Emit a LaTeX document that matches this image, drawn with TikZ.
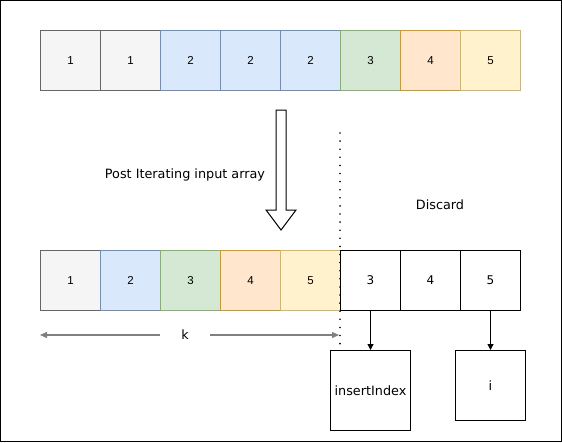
\documentclass[tikz,border=0pt]{standalone}
\usepackage{fontspec}
\setmainfont{Liberation Sans}
\newfontfamily\comicish{DejaVu Sans}
\usetikzlibrary{arrows.meta}
\definecolor{grayF}{HTML}{F5F5F5}\definecolor{grayS}{HTML}{666666}
\definecolor{blueF}{HTML}{DAE8FC}\definecolor{blueS}{HTML}{6C8EBF}
\definecolor{greenF}{HTML}{D5E8D4}\definecolor{greenS}{HTML}{82B366}
\definecolor{orangeF}{HTML}{FFE6CC}\definecolor{orangeS}{HTML}{D79B00}
\definecolor{yellowF}{HTML}{FFF2CC}\definecolor{yellowS}{HTML}{D6B656}
\definecolor{lineG}{HTML}{808080}
\tikzset{
  cell/.style={draw, line width=1pt, minimum width=60pt, minimum height=60pt, inner sep=0pt, anchor=north west, font=\fontsize{11.5}{13}\selectfont},
  gcell/.style={cell, fill=grayF, draw=grayS},
  bcell/.style={cell, fill=blueF, draw=blueS},
  ccell/.style={cell, fill=greenF, draw=greenS},
  ocell/.style={cell, fill=orangeF, draw=orangeS},
  ycell/.style={cell, fill=yellowF, draw=yellowS},
  wcell/.style={cell, fill=white, draw=black, font=\comicish\fontsize{12}{14}\selectfont},
  lbl/.style={font=\comicish\fontsize{12.8}{15}\selectfont, inner sep=0pt},
  arr/.style={-{Triangle[length=6pt,width=6pt]}, line width=1pt},
  varbox/.style={draw, line width=1pt, inner sep=0pt, anchor=north west, font=\comicish\fontsize{12.8}{15}\selectfont}
}
\begin{document}
\begin{tikzpicture}[x=1pt,y=-1pt]
\useasboundingbox (0,0) rectangle (562,442);
\draw[line width=1pt] (0.5,0.5) rectangle (561.5,441.5);
% top row
\node[gcell] (t1) at (40,30) {1};
\node[gcell] (t2) at (100,30) {1};
\node[bcell] (t3) at (160,30) {2};
\node[bcell] (t4) at (220,30) {2};
\node[bcell] (t5) at (280,30) {2};
\node[ccell] (t6) at (340,30) {3};
\node[ocell] (t7) at (400,30) {4};
\node[ycell] (t8) at (460,30) {5};
% bottom row
\node[gcell] (b1) at (40,250) {1};
\node[bcell] (b2) at (100,250) {2};
\node[ccell] (b3) at (160,250) {3};
\node[ocell] (b4) at (220,250) {4};
\node[ycell] (b5) at (280,250) {5};
\node[wcell] (b6) at (340,250) {3};
\node[wcell] (b7) at (400,250) {4};
\node[wcell] (b8) at (460,250) {5};
% hollow arrow
\draw[line width=1pt, draw=black, fill=white] (276,110) -- (286,110) -- (286,210) -- (296,210) -- (281,230) -- (266,210) -- (276,210) -- cycle;
\node[lbl] (post) at (185,175) {Post Iterating input array};
\node[lbl] (disc) at (440,205) {Discard};
% dotted divider
\coordinate (dtop) at (340,133);
\coordinate (dbot) at (340,350);
\draw[line width=1.8pt, line cap=round, dash pattern=on 0pt off 8.1pt] (dtop) -- (dbot);
% k arrows
\node[lbl] (k) at (185,335) {k};
\coordinate (kl) at (40,335);
\coordinate (kr) at (339,335);
\draw[draw=lineG, line width=1.3pt, -{Triangle[length=7pt,width=6pt]}] (k.west) ++(-21,0) -- (kl);
\draw[draw=lineG, line width=1.3pt, -{Triangle[length=7pt,width=6pt]}] (k.east) ++(21,0) -- (kr);
% variable boxes
\node[varbox, minimum width=80pt, minimum height=80pt] (ins) at (330,350) {insertIndex};
\node[varbox, minimum width=70pt, minimum height=70pt] (iv) at (455,350) {i};
\draw[arr] (b6.south) -- (b6.south |- ins.north);
\draw[arr] (b8.south) -- (b8.south |- iv.north);
\end{tikzpicture}
\end{document}
